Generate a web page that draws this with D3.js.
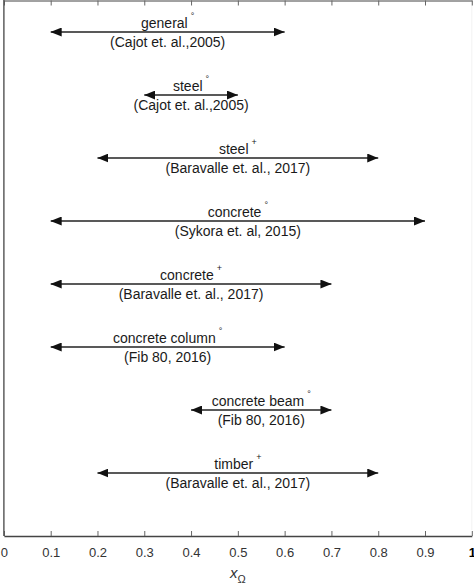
<!DOCTYPE html>
<html>
<head>
<meta charset="utf-8">
<script src="https://cdn.jsdelivr.net/npm/d3@7"></script>
<style>
  body { margin: 0; background: #fff; }
  svg { display: block; font-family: "Liberation Sans", Arial, sans-serif; }
</style>
</head>
<body>
<div id="chart"></div>
<script>
// ranges of the model uncertainty x_Omega, top to bottom
var labels = ["general", "steel", "steel", "concrete", "concrete", "concrete column", "concrete beam", "timber"];
var marks = ["°", "°", "+", "°", "+", "°", "°", "+"];
var sources = [
  "(Cajot et. al.,2005)",
  "(Cajot et. al.,2005)",
  "(Baravalle et. al., 2017)",
  "(Sykora et. al, 2015)",
  "(Baravalle et. al., 2017)",
  "(Fib 80, 2016)",
  "(Fib 80, 2016)",
  "(Baravalle et. al., 2017)"
];
var lower = [0.1, 0.3, 0.2, 0.1, 0.1, 0.1, 0.4, 0.2];
var upper = [0.6, 0.5, 0.8, 0.9, 0.7, 0.6, 0.7, 0.8];
var xTicks = [0, 0.1, 0.2, 0.3, 0.4, 0.5, 0.6, 0.7, 0.8, 0.9, 1];

var svgWidth = 474;
var svgHeight = 586;

var svg = d3
  .select("#chart")
  .append("svg")
  .attr("width", svgWidth)
  .attr("height", svgHeight);

var x = d3.scaleLinear().domain([0, 1]).range([3.9, 471.8]);
// row i sits at value 8 - i
var y = d3.scaleLinear().domain([0, 8.5]).range([536, 0.5]);

var rows = labels.map(function(d, i) {
  return {label: d, mark: marks[i], source: sources[i], lo: lower[i], hi: upper[i], v: 8 - i};
});

// arrow heads
var defs = svg.append("defs");
defs.append("marker")
  .attr("id", "head")
  .attr("viewBox", "0 0 11 9")
  .attr("refX", 11)
  .attr("refY", 4.5)
  .attr("markerWidth", 11)
  .attr("markerHeight", 9)
  .attr("markerUnits", "userSpaceOnUse")
  .attr("orient", "auto-start-reverse")
  .append("path")
  .attr("d", "M0,0L11,4.5L0,9Z")
  .attr("fill", "#111");

// faint right frame
svg.append("line")
  .attr("x1", x(1)).attr("x2", x(1))
  .attr("y1", 0).attr("y2", y(0) - 6)
  .attr("stroke", "#f2f2f2");

var bottomAxis = d3.axisBottom(x)
  .tickValues(xTicks)
  .tickFormat(d3.format("~g"))
  .tickSizeInner(-5)
  .tickSizeOuter(0)
  .tickPadding(12);

var gx = svg.append("g")
  .attr("transform", "translate(0," + y(0) + ")")
  .call(bottomAxis);
gx.select(".domain").attr("stroke", "#444").attr("stroke-width", 1.3);
gx.selectAll(".tick line").attr("stroke", "#666");
gx.selectAll(".tick text")
  .attr("fill", "#333")
  .style("font-size", "13px")
  .style("font-family", "Liberation Sans, Arial, sans-serif");
gx.selectAll(".tick text")
  .filter(function(d) { return d === 1; })
  .attr("fill", "#000")
  .style("font-weight", "bold");

var topAxis = d3.axisTop(x)
  .tickValues(xTicks)
  .tickFormat("")
  .tickSizeInner(-5)
  .tickSizeOuter(0);

var gt = svg.append("g")
  .attr("transform", "translate(0," + y(8.5) + ")")
  .call(topAxis);
gt.select(".domain").attr("stroke", "#444");
gt.selectAll(".tick line").attr("stroke", "#666");

svg.append("line")
  .attr("x1", x(0)).attr("x2", x(0))
  .attr("y1", 0).attr("y2", y(0))
  .attr("stroke", "#444")
  .attr("stroke-width", 1.3);

// ranges
var g = svg.append("g");

g.selectAll("line.range")
  .data(rows)
  .enter()
  .append("line")
  .attr("class", "range")
  .attr("x1", function(d) { return x(d.lo); })
  .attr("x2", function(d) { return x(d.hi); })
  .attr("y1", function(d) { return y(d.v); })
  .attr("y2", function(d) { return y(d.v); })
  .attr("stroke", "#222")
  .attr("stroke-width", 1.4)
  .attr("marker-start", "url(#head)")
  .attr("marker-end", "url(#head)");

var lab = g.selectAll("text.label")
  .data(rows)
  .enter()
  .append("text")
  .attr("class", "label")
  .attr("x", function(d) { return x((d.lo + d.hi) / 2); })
  .attr("y", function(d) { return y(d.v) - 4; })
  .attr("text-anchor", "middle")
  .attr("fill", "#1a1a1a")
  .style("font-size", "14px");
lab.append("tspan").text(function(d) { return d.label; });
lab.append("tspan")
  .attr("dx", 3)
  .attr("dy", -9)
  .style("font-size", "9px")
  .text(function(d) { return d.mark; });

g.selectAll("text.source")
  .data(rows)
  .enter()
  .append("text")
  .attr("class", "source")
  .attr("x", function(d) { return x((d.lo + d.hi) / 2); })
  .attr("y", function(d) { return y(d.v) + 14.5; })
  .attr("text-anchor", "middle")
  .attr("fill", "#1a1a1a")
  .style("font-size", "14px")
  .text(function(d) { return d.source; });

// axis title
var title = svg.append("text")
  .attr("x", x(0.5))
  .attr("y", 578)
  .attr("text-anchor", "middle")
  .attr("fill", "#333");
title.append("tspan")
  .style("font-style", "italic")
  .style("font-size", "15px")
  .text("x");
title.append("tspan")
  .attr("dy", 5)
  .style("font-size", "11px")
  .text("Ω");
</script>
</body>
</html>
